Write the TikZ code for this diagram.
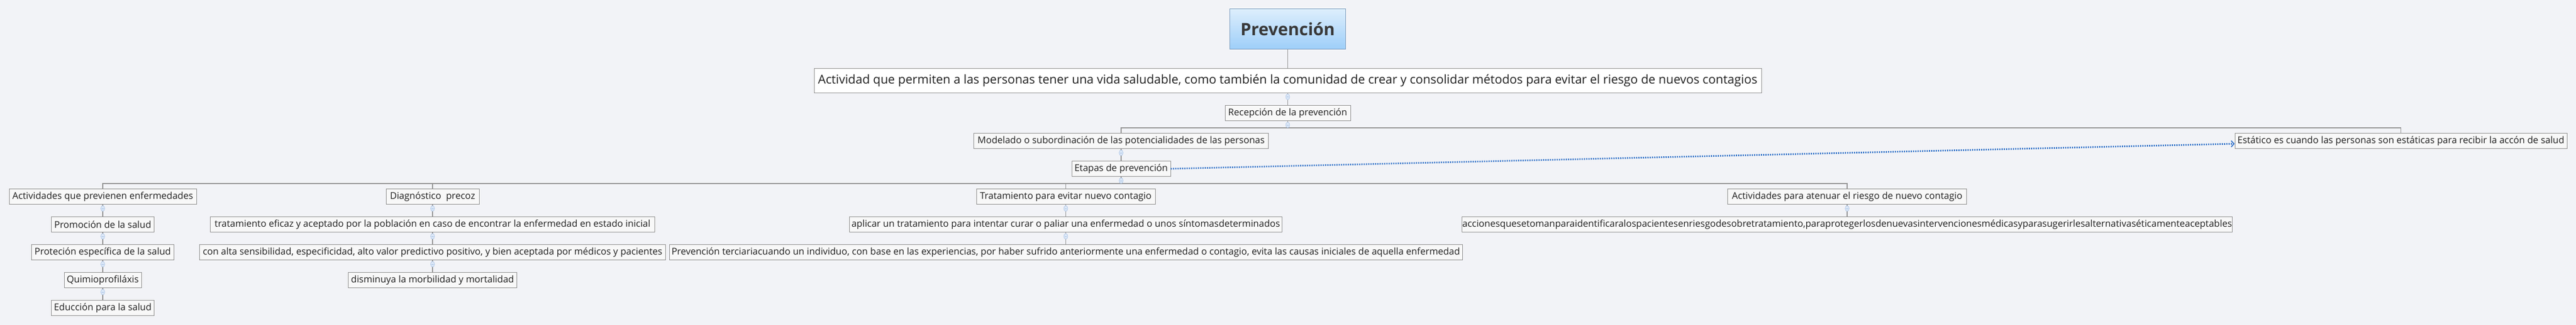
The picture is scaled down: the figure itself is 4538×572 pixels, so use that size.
\documentclass[tikz,border=0pt]{standalone}
\usepackage{fontspec}
\setmainfont{Open Sans}
\usetikzlibrary{arrows.meta}
\definecolor{bgcol}{HTML}{F2F3F7}
\definecolor{boxline}{HTML}{8E8E8E}
\definecolor{boxfill}{HTML}{F8F8F8}
\definecolor{textcol}{HTML}{202020}
\definecolor{wire}{HTML}{959595}
\definecolor{rootline}{HTML}{7D9DBF}
\definecolor{roottop}{HTML}{DDEEFC}
\definecolor{rootbot}{HTML}{9DCEF9}
\definecolor{linkblue}{HTML}{2A6DC6}
\definecolor{foldfill}{HTML}{DCE8F7}
\definecolor{folddraw}{HTML}{A6C0E4}

\begin{document}
\begin{tikzpicture}[x=1pt,y=-1pt,
  topic/.style={draw=boxline,fill=boxfill,line width=0.9pt,inner sep=1pt,minimum height=27pt,text=textcol,font=\fontsize{16.5}{20}\selectfont},
  rootbox/.style={draw=rootline,line width=1pt,top color=roottop,bottom color=rootbot,minimum width=204pt,minimum height=71pt,text=black!78,font=\fontsize{30}{36}\selectfont\bfseries},
  wirel/.style={draw=wire,line width=1.3pt},
  link/.style={draw=linkblue,line width=2.8pt,dash pattern=on 2pt off 2pt,-{Straight Barb[length=5pt,width=11pt,line width=1.6pt]}},
  fold/.style={fill=foldfill,draw=folddraw,line width=0.6pt}]
\fill[bgcol] (0,0) rectangle (4538,572);
% centre column
\node[rootbox] (prev) at (2268.5,51.5) {Prevención};
\node[topic,fill=white,minimum width=1669pt,minimum height=43pt,font=\fontsize{21.5}{26}\selectfont] (defin) at (2268.5,141.5) {Actividad que permiten a las personas tener una vida saludable, como también la comunidad de crear y consolidar métodos para evitar el riesgo de nuevos contagios};
\node[topic,minimum width=221pt] (recep) at (2268.5,199) {Recepción de la prevención};
\node[topic,minimum width=519pt] (model) at (1975,248) {Modelado o subordinación de las potencialidades de las personas};
\node[topic,minimum width=585pt] (estat) at (4229.5,248) {Estático es cuando las personas son estáticas para recibir la accón de salud};
\node[topic,minimum width=174pt] (etapas) at (1975,297) {Etapas de prevención};
% first column
\node[topic,minimum width=330pt] (actprev) at (181,346) {Actividades que previenen enfermedades};
\node[topic,minimum width=181pt] (promo) at (181,395) {Promoción de la salud};
\node[topic,minimum width=251pt] (protec) at (181,444) {Proteción específica de la salud};
\node[topic,minimum width=136pt] (quimio) at (181,493) {Quimioprofiláxis};
\node[topic,minimum width=181pt] (educ) at (181,542) {Educción para la salud};
% second column
\node[topic,minimum width=164pt] (diag) at (762,346) {Diagnóstico\ \ precoz};
\node[topic,minimum width=783pt] (eficaz) at (762,395) {tratamiento eficaz y aceptado por la población en caso de encontrar la enfermedad en estado inicial};
\node[topic,minimum width=821pt] (sensib) at (762,444) {con alta sensibilidad, especificidad, alto valor predictivo positivo, y bien aceptada por médicos y pacientes};
\node[topic,minimum width=297pt] (dismin) at (762,493) {disminuya la morbilidad y mortalidad};
% third column
\node[topic,minimum width=315pt] (trat) at (1877.5,346) {Tratamiento para evitar nuevo contagio};
\node[topic,minimum width=762pt] (aplicar) at (1877.5,395) {aplicar un tratamiento para intentar curar o paliar una enfermedad o unos síntomasdeterminados};
\node[topic,minimum width=1397pt] (tercia) at (1877.5,444) {Prevención terciariacuando un individuo, con base en las experiencias, por haber sufrido anteriormente una enfermedad o contagio, evita las causas iniciales de aquella enfermedad};
% fourth column
\node[topic,minimum width=421pt] (atenua) at (3254,346) {Actividades para atenuar el riesgo de nuevo contagio};
\node[topic,minimum width=1346pt] (acciones) at (3254,395) {accionesquesetomanparaidentificaralospacientesenriesgodesobretratamiento,paraprotegerlosdenuevasintervencionesmédicasyparasugerirlesalternativaséticamenteaceptables};
% connectors
\draw[wirel] (prev) -- (defin);
\draw[wirel] (defin) -- (recep);
\draw[wirel] (recep.south) -- ++(0,12) -| (model.north);
\draw[wirel] (recep.south) -- ++(0,12) -| (estat.north);
\draw[wirel] (model) -- (etapas);
\draw[wirel] (etapas.south) -- ++(0,12) -| (actprev.north);
\draw[wirel] (etapas.south) -- ++(0,12) -| (diag.north);
\draw[wirel] (etapas.south) -- ++(0,12) -| (trat.north);
\draw[wirel] (etapas.south) -- ++(0,12) -| (atenua.north);
\draw[wirel] (actprev) -- (promo);
\draw[wirel] (promo) -- (protec);
\draw[wirel] (protec) -- (quimio);
\draw[wirel] (quimio) -- (educ);
\draw[wirel] (diag) -- (eficaz);
\draw[wirel] (eficaz) -- (sensib);
\draw[wirel] (sensib) -- (dismin);
\draw[wirel] (trat) -- (aplicar);
\draw[wirel] (aplicar) -- (tercia);
\draw[wirel] (atenua) -- (acciones);
\draw[link] (etapas.east) -- ([yshift=-5pt]estat.west);
% fold marks
\foreach \p in {defin,recep,model,etapas,actprev,promo,protec,quimio,diag,eficaz,sensib,trat,aplicar,atenua}{
  \filldraw[fold] ([yshift=-7pt]\p.south) ellipse (3.5pt and 5pt);
  \draw[folddraw,line width=0.6pt] ([xshift=-1.8pt,yshift=-7pt]\p.south) -- ([xshift=1.8pt,yshift=-7pt]\p.south);
}
\end{tikzpicture}
\end{document}
